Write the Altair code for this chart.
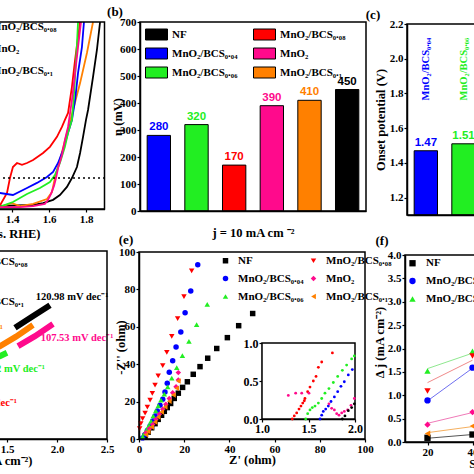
import altair as alt
import pandas as pd

W, H = 474, 474
SERIF = "Liberation Serif"
NARROW = "Liberation Sans Narrow, Liberation Sans, Arial"

# ---------------------------------------------------------------- series
NF = "NF"
S04 = "MnO₂/BCS₀.₀₄"
S06 = "MnO₂/BCS₀.₀₆"
S08 = "MnO₂/BCS₀.₀₈"
MNO2 = "MnO₂"
S10 = "MnO₂/BCS₀.₁"

LEGEND_ORDER = [NF, S04, S06, S08, MNO2, S10]
BAR_ORDER = [S04, S06, S08, MNO2, S10, NF]
COLOR = {NF: "#000000", S04: "#0000ff", S06: "#22ee22", S08: "#ff0000",
         MNO2: "#ff0a8c", S10: "#ff8000"}
FIT_COLOR = {NF: "#555555", S04: "#6f6ff0", S06: "#8fe88f", S08: "#f08a8a",
             MNO2: "#f07ab8", S10: "#f5b060"}
SHAPE = {NF: "square", S04: "circle", S06: "triangle-up", S08: "triangle-down",
         MNO2: "diamond", S10: "triangle-left"}

# ---------------------------------------------------------------- (a) LSV curves
a_nf_v = [1.33, 1.514, 1.568, 1.622, 1.659, 1.697, 1.724, 1.751, 1.768, 1.784, 1.800, 1.811, 1.838, 1.859, 1.876]
a_nf_j = [-0.4, 0.0, 0.7, 1.9, 3.7, 6.7, 10.0, 14.1, 19.3, 25.3, 31.6, 35.3, 47.6, 57.6, 68.0]
a_s10_v = [1.33, 1.400, 1.443, 1.514, 1.589, 1.616, 1.632, 1.659, 1.697, 1.730, 1.768, 1.805, 1.838]
a_s10_j = [-0.8, 0.7, -0.4, 0.4, 2.2, 4.8, 10.0, 16.7, 26.8, 35.3, 45.3, 56.5, 68.0]
a_s08_v = [1.33, 1.373, 1.389, 1.405, 1.427, 1.454, 1.481, 1.514, 1.568, 1.605, 1.643, 1.670, 1.686, 1.703, 1.724, 1.741, 1.757, 1.768]
a_s08_j = [-0.8, 4.5, 10.0, 14.1, 15.6, 14.9, 15.6, 16.7, 19.3, 21.6, 25.3, 29.0, 31.6, 34.2, 43.9, 53.9, 62.4, 68.0]
a_s04_v = [1.33, 1.405, 1.481, 1.535, 1.589, 1.622, 1.649, 1.676, 1.703, 1.724, 1.741, 1.757, 1.778, 1.789]
a_s04_j = [4.5, 3.7, 6.3, 8.2, 10.4, 12.3, 15.6, 20.4, 26.8, 31.6, 39.0, 49.1, 58.7, 68.0]
a_s06_v = [1.33, 1.405, 1.481, 1.551, 1.605, 1.632, 1.659, 1.686, 1.703, 1.724, 1.735, 1.743, 1.751, 1.757]
a_s06_j = [-0.8, 1.1, 4.1, 6.3, 8.5, 11.1, 15.6, 21.6, 26.8, 31.6, 40.9, 50.2, 59.5, 68.0]
a_mno2_v = [1.33, 1.443, 1.514, 1.578, 1.595, 1.611, 1.627, 1.638, 1.649, 1.670, 1.686, 1.703, 1.724, 1.741, 1.757, 1.773]
a_mno2_j = [-0.8, -0.8, -0.4, 0.4, 1.9, 4.1, 7.1, 10.0, 13.7, 18.6, 24.2, 29.0, 39.0, 49.1, 58.7, 68.0]
a_target_j = 10  # mA cm^-2

# ---------------------------------------------------------------- (b) overpotential at 10 mA cm^-2
b_eta = [280, 320, 170, 390, 410, 450]          # in BAR_ORDER

# ---------------------------------------------------------------- (c) onset potential
c_series = [S04, S06]
c_onset = [1.47, 1.51]

# ---------------------------------------------------------------- (d) Tafel lines
d_nf_x = [1.58, 1.75, 1.93]
d_nf_y = [1.601, 1.621, 1.642]
d_s10_x = [1.33, 1.43, 1.59, 1.76]
d_s10_y = [1.557, 1.568, 1.585, 1.606]
d_mno2_x = [1.61, 1.78, 1.96]
d_mno2_y = [1.568, 1.586, 1.608]
d_s06_x = [1.28, 1.43, 1.50]
d_s06_y = [1.543, 1.550, 1.556]
d_slope_text = ["120.98 mV dec⁻¹", "107.53 mV dec⁻¹", "98.02 mV dec⁻¹", "89.53 mV dec⁻¹", "112.35 mV dec⁻¹"]
d_slope_series = [NF, MNO2, S06, S08, S10]
d_slope_x = [2.15, 2.20, 1.88, 1.60, 1.46]
d_slope_y = [1.657, 1.583, 1.527, 1.465, 1.599]
d_slope_centered = [True, True, False, False, False]

# ---------------------------------------------------------------- (e) Nyquist plots
e_nf_x = [50.3, 44.1, 39.1, 34.4, 30.4, 27.0, 24.0, 21.4, 19.3, 17.4, 15.6, 14.0, 12.5, 11.2, 10.0, 8.5, 7.1, 5.6, 4.1, 2.7]
e_nf_y = [67.1, 60.6, 54.2, 48.4, 43.2, 38.7, 34.6, 30.6, 27.6, 24.5, 21.7, 19.0, 16.8, 14.8, 12.7, 10.5, 8.2, 6.0, 3.7, 1.5]
e_s04_x = [26.0, 22.9, 20.4, 18.5, 16.4, 14.9, 13.4, 12.5, 11.5, 10.5, 9.3, 8.1, 7.1, 6.1, 4.9, 3.7, 2.7, 1.6]
e_s04_y = [93.2, 79.1, 67.5, 57.2, 49.2, 41.8, 35.7, 29.8, 25.2, 21.3, 18.1, 15.0, 12.3, 9.6, 6.9, 4.6, 2.4, 0.6]
e_s06_x = [30.2, 25.5, 22.1, 19.2, 16.7, 14.5, 12.7, 11.2, 9.7, 8.5, 7.4, 6.3, 5.3, 4.4, 3.4, 2.5, 1.6]
e_s06_y = [72.0, 61.2, 52.2, 44.6, 38.2, 32.5, 27.9, 24.0, 20.8, 17.7, 15.0, 12.3, 9.6, 7.3, 5.1, 3.1, 1.3]
e_s08_x = [23.3, 19.9, 17.1, 14.5, 12.3, 10.5, 8.5, 7.1, 5.9, 4.9, 3.7, 2.7, 1.6, 0.8, 0.3]
e_s08_y = [89.9, 76.1, 64.4, 54.9, 46.3, 39.2, 33.7, 28.8, 24.4, 20.8, 17.1, 13.9, 10.9, 8.2, 5.5]
e_mno2_x = [17.4, 17.4, 16.4, 14.9, 13.4, 11.9, 10.5, 9.0, 7.5, 6.1, 4.6, 3.1]
e_mno2_y = [35.5, 31.5, 27.9, 24.7, 21.7, 18.6, 15.9, 13.2, 10.5, 7.8, 5.5, 3.3]
e_s10_x = [17.4, 16.7, 15.2, 13.4, 11.6, 10.0, 8.5, 7.1, 5.6, 4.1, 3.1]
e_s10_y = [31.0, 27.1, 23.5, 20.2, 17.1, 14.4, 11.8, 9.1, 6.4, 4.0, 2.3]

# inset: high-frequency region
i_s08_x = [1.326, 1.347, 1.373, 1.398, 1.419, 1.438, 1.455, 1.462, 1.491, 1.516, 1.552, 1.581, 1.606, 1.642, 1.757]
i_s08_y = [0.00, 0.04, 0.08, 0.13, 0.17, 0.21, 0.24, 0.27, 0.36, 0.42, 0.50, 0.56, 0.68, 0.75, 0.87]
i_s06_x = [1.470, 1.491, 1.516, 1.541, 1.570, 1.606, 1.642, 1.677, 1.720, 1.767, 1.814, 1.864, 1.910, 1.964, 1.993]
i_s06_y = [0.00, 0.07, 0.12, 0.15, 0.17, 0.21, 0.27, 0.34, 0.40, 0.48, 0.56, 0.64, 0.71, 0.79, 0.83]
i_s04_x = [1.624, 1.642, 1.659, 1.685, 1.713, 1.742, 1.778, 1.814, 1.849, 1.885, 1.928, 1.971]
i_s04_y = [0.00, 0.05, 0.10, 0.13, 0.17, 0.23, 0.29, 0.36, 0.43, 0.49, 0.58, 0.65]
i_mno2_x = [1.283, 1.362, 1.427, 1.505, 1.720, 1.749, 1.778, 1.803, 1.828, 1.857, 1.885, 1.921, 1.957, 1.993]
i_mno2_y = [0.31, 0.34, 0.34, 0.34, 0.20, 0.14, 0.12, 0.07, 0.05, 0.08, 0.10, 0.12, 0.18, 0.27]
i_nf_x = [1.864, 1.892, 1.928, 1.964, 1.993]
i_nf_y = [0.00, 0.04, 0.11, 0.15, 0.20]

# ---------------------------------------------------------------- (f) capacitive current vs scan rate
f_rate = [20, 40]
f_dj = {NF: [0.09, 0.16], S04: [0.89, 1.59], S06: [1.52, 1.94],
        S08: [1.09, 1.84], MNO2: [0.37, 0.64], S10: [0.18, 0.34]}
f_fit = {NF: [0.08, 0.16], S04: [0.88, 1.58], S06: [1.57, 1.90],
         S08: [1.27, 1.75], MNO2: [0.40, 0.63], S10: [0.20, 0.33]}


# ---------------------------------------------------------------- helpers
def long_table(pairs, xname, yname):
    rows = []
    for s, (xs_, ys_) in pairs.items():
        for i, (xv, yv) in enumerate(zip(xs_, ys_)):
            rows.append({"s": s, xname: xv, yname: yv, "i": i})
    return pd.DataFrame(rows)


def lin(domain, r0, r1):
    return alt.Scale(domain=domain, range=[r0, r1], nice=False, zero=False)


def bottom_axis(ypos, **kw):
    return alt.Axis(orient="bottom", offset=ypos - H, **kw)


def left_axis(xpos, **kw):
    return alt.Axis(orient="left", offset=-xpos, **kw)


def frame(x0, x1, y0, y1, fill=""):
    props = dict(stroke="black", strokeWidth=1.5)
    if fill:
        props["fill"] = fill
    else:
        props["filled"] = False
    return alt.Chart(pd.DataFrame({"k": [0]})).mark_rect(**props).encode(
        x=alt.value(x0), x2=alt.value(x1), y=alt.value(y0), y2=alt.value(y1))


def tag(text, x, y):
    return alt.Chart(pd.DataFrame({"t": [text]})).mark_text(
        font=SERIF, fontWeight="bold", fontSize=13, color="black").encode(
        x=alt.value(x), y=alt.value(y), text="t:N")


def color_scale():
    return alt.Scale(domain=LEGEND_ORDER, range=[COLOR[k] for k in LEGEND_ORDER])


def shape_scale():
    return alt.Scale(domain=LEGEND_ORDER, range=[SHAPE[k] for k in LEGEND_ORDER])


LEG = dict(orient="none", title=None, columns=2, labelFont=SERIF, labelFontWeight="bold",
           labelFontSize=11, labelColor="black", padding=0)

# ---------------------------------------------------------------- panel (a)
a_df = long_table({NF: (a_nf_v, a_nf_j), S10: (a_s10_v, a_s10_j), S08: (a_s08_v, a_s08_j),
                   S04: (a_s04_v, a_s04_j), S06: (a_s06_v, a_s06_j), MNO2: (a_mno2_v, a_mno2_j)},
                  "V", "j")
a_x = alt.X("V:Q", scale=lin([1.0, 1.9], -62, 104.5),
            axis=bottom_axis(209, values=[1.0, 1.2, 1.4, 1.6, 1.8], format=".1f",
                             title="Potential (V vs. RHE)", titleX=40, titleY=24,
                             titleAlign="right", titleBaseline="middle"))
a_y = alt.Y("j:Q", scale=lin([-1.5, 68], 209, 22), axis=None)
a_lines = alt.Chart(a_df).mark_line(strokeWidth=1.8).encode(
    x=a_x, y=a_y, order="i:Q",
    color=alt.Color("s:N", scale=color_scale(),
                    legend=alt.Legend(**LEG, legendX=-140, legendY=16, symbolType="stroke",
                                      symbolStrokeWidth=2, symbolSize=400, labelOffset=4,
                                      columnPadding=10, rowPadding=6)))
a_rule = alt.Chart(pd.DataFrame({"j": [a_target_j]})).mark_rule(
    strokeDash=[2, 3], strokeWidth=1.5, color="black").encode(
    y="j:Q", x=alt.datum(1.0), x2=alt.datum(1.9))
panel_a = alt.layer(a_lines, a_rule)

# ---------------------------------------------------------------- panel (b)
b_df = pd.DataFrame({"s": BAR_ORDER, "eta": b_eta})
b_df["c"] = b_df["s"].map(COLOR)
b_x = alt.X("s:N", sort=BAR_ORDER,
            scale=alt.Scale(domain=BAR_ORDER, range=[140, 366], paddingInner=0.38, paddingOuter=0.19),
            axis=bottom_axis(211, labels=False, ticks=False, title="j = 10 mA cm ⁻²",
                             titleX=253, titleY=21, titleBaseline="middle"))
b_y = alt.Y("eta:Q", scale=lin([0, 700], 211, 22),
            axis=left_axis(140, values=list(range(0, 701, 100)), title="η (mV)",
                           titleX=-23, titleY=116.5, titleBaseline="middle"))
b_bars = alt.Chart(b_df).mark_bar(stroke="black", strokeWidth=1).encode(
    x=b_x, y=b_y,
    color=alt.Color("s:N", scale=color_scale(),
                    legend=alt.Legend(**LEG, legendX=145, legendY=23,
                                      symbolType="M-1,-0.5H1V0.5H-1Z", symbolSize=484,
                                      symbolStrokeColor="black", symbolStrokeWidth=1,
                                      labelOffset=4, columnPadding=13, rowPadding=0)))
b_vals = alt.Chart(b_df).mark_text(font=NARROW, fontWeight="bold", fontSize=11.5,
                                   baseline="bottom", dy=-3).encode(
    x=b_x, y=b_y, text="eta:Q", color=alt.Color("c:N", scale=None))
panel_b = alt.layer(b_bars, b_vals)

# ---------------------------------------------------------------- panel (c)
c_df = pd.DataFrame({"s": c_series, "v": c_onset})
c_df["c"] = c_df["s"].map(COLOR)
c_x = alt.X("s:N", sort=BAR_ORDER,
            scale=alt.Scale(domain=BAR_ORDER, range=[407, 633], paddingInner=0.38, paddingOuter=0.19),
            axis=bottom_axis(215, labels=False, ticks=False, title=""))
c_y = alt.Y("v:Q", scale=lin([1.1, 2.2], 215, 24),
            axis=left_axis(407, values=[1.2, 1.4, 1.6, 1.8, 2.0, 2.2], format=".1f",
                           title="Onset potential (V)", titleX=-27, titleY=119.5,
                           titleBaseline="middle"))
c_bars = alt.Chart(c_df).mark_bar(stroke="black", strokeWidth=1).encode(
    x=c_x, y=c_y, y2=alt.datum(1.1), color=alt.Color("c:N", scale=None))
c_vals = alt.Chart(c_df).mark_text(font=NARROW, fontWeight="bold", fontSize=11.5,
                                   baseline="bottom", dy=-3).encode(
    x=c_x, y=c_y, text=alt.Text("v:Q", format=".2f"), color=alt.Color("c:N", scale=None))
c_names = alt.Chart(c_df).mark_text(font=SERIF, fontWeight="bold", fontSize=10.5, angle=270,
                                    align="left", baseline="middle").encode(
    x=c_x, y=alt.datum(1.76), text="s:N", color=alt.Color("c:N", scale=None))
panel_c = alt.layer(c_bars, c_vals, c_names)

# ---------------------------------------------------------------- panel (d)
d_df = long_table({NF: (d_nf_x, d_nf_y), S10: (d_s10_x, d_s10_y),
                   MNO2: (d_mno2_x, d_mno2_y), S06: (d_s06_x, d_s06_y)}, "logj", "E")
d_x = alt.X("logj:Q", scale=lin([0, 2.5], -143, 107),
            axis=bottom_axis(439, values=[0.5, 1.0, 1.5, 2.0, 2.5], format=".1f",
                             title="log j (mA cm⁻²)", titleX=32, titleY=21,
                             titleAlign="right", titleBaseline="middle"))
d_y = alt.Y("E:Q", scale=lin([1.40, 1.74], 439, 251), axis=None)
d_lines = alt.Chart(d_df).mark_line(strokeWidth=6, strokeCap="butt").encode(
    x=d_x, y=d_y, order="i:Q",
    color=alt.Color("s:N", scale=color_scale(),
                    legend=alt.Legend(**LEG, legendX=-174, legendY=250, symbolType="stroke",
                                      symbolStrokeWidth=4, symbolSize=361, labelOffset=4,
                                      columnPadding=10, rowPadding=0)))
d_txt = pd.DataFrame({"t": d_slope_text, "s": d_slope_series, "logj": d_slope_x,
                      "E": d_slope_y, "mid": d_slope_centered})
d_txt["c"] = d_txt["s"].map(COLOR)
d_mid = alt.Chart(d_txt[d_txt["mid"]]).mark_text(
    font=SERIF, fontWeight="bold", fontSize=10.5, align="center").encode(
    x=d_x, y=d_y, text="t:N", color=alt.Color("c:N", scale=None))
d_right = alt.Chart(d_txt[~d_txt["mid"]]).mark_text(
    font=SERIF, fontWeight="bold", fontSize=10.5, align="right").encode(
    x=d_x, y=d_y, text="t:N", color=alt.Color("c:N", scale=None))
panel_d = alt.layer(d_lines, d_mid, d_right)

# ---------------------------------------------------------------- panel (e)
e_df = long_table({NF: (e_nf_x, e_nf_y), S04: (e_s04_x, e_s04_y), S06: (e_s06_x, e_s06_y),
                   S08: (e_s08_x, e_s08_y), MNO2: (e_mno2_x, e_mno2_y), S10: (e_s10_x, e_s10_y)},
                  "zr", "zi")
e_leg = dict(**LEG, legendX=220, legendY=255, symbolSize=30, labelOffset=7,
             columnPadding=4, rowPadding=6)
panel_e = alt.Chart(e_df).mark_point(filled=True, size=30, opacity=1).encode(
    x=alt.X("zr:Q", scale=lin([0, 100], 139, 365),
            axis=bottom_axis(439, values=[0, 20, 40, 60, 80, 100], title="Z' (ohm)",
                             titleX=252, titleY=20, titleBaseline="middle")),
    y=alt.Y("zi:Q", scale=lin([0, 100], 439, 252),
            axis=left_axis(139, values=[0, 20, 40, 60, 80, 100], title="-Z'' (ohm)",
                           titleX=-19, titleY=347, titleBaseline="middle")),
    color=alt.Color("s:N", scale=color_scale(), legend=alt.Legend(**e_leg)),
    shape=alt.Shape("s:N", scale=shape_scale(), legend=alt.Legend(**e_leg)))

i_df = long_table({S08: (i_s08_x, i_s08_y), S06: (i_s06_x, i_s06_y), S04: (i_s04_x, i_s04_y),
                   MNO2: (i_mno2_x, i_mno2_y), NF: (i_nf_x, i_nf_y)}, "zr", "zi")
i_df["c"] = i_df["s"].map(COLOR)
inset_pts = alt.Chart(i_df).mark_circle(size=8, opacity=1).encode(
    x=alt.X("zr:Q", scale=lin([1.0, 2.0], 262, 355),
            axis=bottom_axis(419, values=[1.0, 1.5, 2.0], format=".1f", title="",
                             labelFontSize=12)),
    y=alt.Y("zi:Q", scale=lin([0, 1.0], 419, 343),
            axis=left_axis(262, values=[0, 0.5, 1.0], format=".1f", title="",
                           labelFontSize=12)),
    color=alt.Color("c:N", scale=None))

# ---------------------------------------------------------------- panel (f)
f_rows, fit_rows = [], []
for s in LEGEND_ORDER:
    for r, v, fv in zip(f_rate, f_dj[s], f_fit[s]):
        f_rows.append({"s": s, "rate": r, "dj": v})
        fit_rows.append({"s": s, "rate": r, "dj": fv, "c": FIT_COLOR[s]})
f_df = pd.DataFrame(f_rows)
fit_df = pd.DataFrame(fit_rows)
f_x = alt.X("rate:Q", scale=lin([10, 110], 405, 630),
            axis=bottom_axis(442, values=[20, 40, 60, 80, 100], title="Scan rate (mV s⁻¹)",
                             titleX=517, titleY=21, titleBaseline="middle"))
f_y = alt.Y("dj:Q", scale=lin([0, 4.0], 442, 255),
            axis=left_axis(405, values=[0, 0.5, 1.0, 1.5, 2.0, 2.5, 3.0, 3.5, 4.0], format=".1f",
                           title="Δ j (mA cm⁻²)", titleX=-26, titleY=342,
                           titleBaseline="middle"))
f_leg = dict(**LEG, legendX=407, legendY=257.5, symbolSize=40, labelOffset=8,
             columnPadding=4, rowPadding=6)
f_fit_lines = alt.Chart(fit_df).mark_line(strokeWidth=1).encode(
    x=f_x, y=f_y, detail="s:N", color=alt.Color("c:N", scale=None))
f_pts = alt.Chart(f_df).mark_point(filled=True, size=40, opacity=1).encode(
    x=f_x, y=f_y,
    color=alt.Color("s:N", scale=color_scale(), legend=alt.Legend(**f_leg)),
    shape=alt.Shape("s:N", scale=shape_scale(), legend=alt.Legend(**f_leg)))
panel_f = alt.layer(f_fit_lines, f_pts)

# ---------------------------------------------------------------- assemble
chart = alt.layer(
    panel_a, frame(-62, 104.5, 22, 209),
    panel_b, frame(140, 366, 22, 211),
    panel_c, frame(407, 633, 24, 215),
    panel_d, frame(-143, 107, 251, 439),
    panel_e, frame(139, 365, 252, 439),
    frame(262, 355, 343, 419, fill="white"), inset_pts,
    panel_f, frame(405, 630, 255, 442),
    tag("(b)", 115, 12), tag("(c)", 373, 15), tag("(e)", 126, 240), tag("(f)", 382, 241),
).resolve_scale(
    x="independent", y="independent", color="independent", shape="independent"
).properties(
    width=W, height=H, padding=0, autosize=alt.AutoSizeParams(type="none")
).configure_view(
    strokeWidth=0
).configure_axis(
    domainColor="black", domainWidth=1.5, tickColor="black", tickWidth=1.2, tickSize=3,
    labelFont=SERIF, labelFontWeight="bold", labelFontSize=11, labelColor="black",
    labelPadding=1, labelFlush=False, labelOverlap=False, grid=False,
    titleFont=SERIF, titleFontWeight="bold", titleFontSize=12.5, titleColor="black",
)

chart.save("out.html", embed_options={"renderer": "svg", "actions": False})
